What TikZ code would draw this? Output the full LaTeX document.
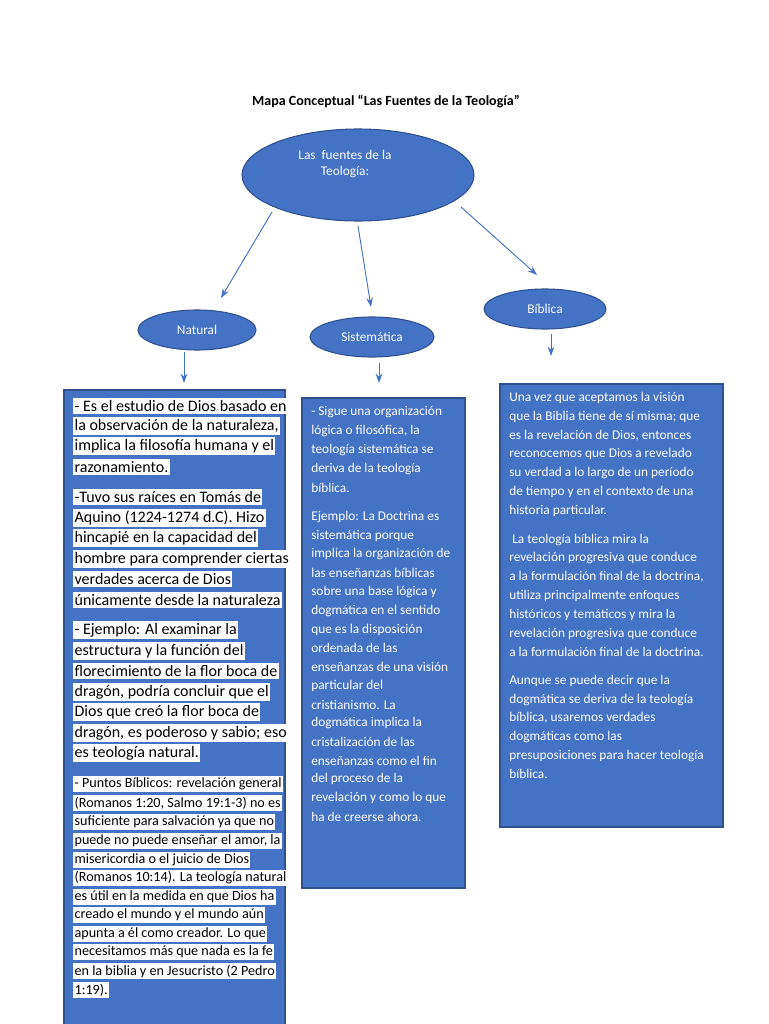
\documentclass[tikz,border=0pt]{standalone}
\usepackage{fontspec}
\setmainfont{Carlito}
\usetikzlibrary{arrows.meta}
\definecolor{bl}{HTML}{4472C4}
\definecolor{bd}{HTML}{2F528F}
\tikzset{ell/.style={draw=bd,fill=bl,line width=0.8pt},
 txtbox/.style={draw=bd,fill=bl,line width=0.8pt},
 arr/.style={draw=bl,line width=0.7pt,-{Stealth[length=7pt,width=5pt]}},
 hl/.style={fill=white,inner xsep=1pt,inner ysep=1.5pt,anchor=west,font=\fontsize{12}{12}\selectfont,text=black},
 hs/.style={hl,font=\fontsize{10.6}{10.6}\selectfont},
 wt/.style={inner sep=0pt,anchor=west,font=\fontsize{10}{10}\selectfont,text=white}}
\begin{document}
\begin{tikzpicture}[x=0.75pt,y=-0.75pt]
\useasboundingbox (0,0) rectangle (768,1024);
\node (title) at (386,102) {\fontsize{10.5}{10.5}\selectfont\bfseries Mapa Conceptual “Las Fuentes de la Teología”};
\draw[ell] (358,175) ellipse [x radius=116,y radius=46];
\node[text=white,align=center,font=\fontsize{10}{12}\selectfont] (top) at (345,164) {Las\ \ fuentes de la\\Teología:};
\coordinate (topc) at (358,175);
\draw[ell] (197,330) ellipse [x radius=59,y radius=20];
\node[text=white,font=\fontsize{10}{10}\selectfont] (nat) at (197,330) {Natural};
\draw[ell] (372,337) ellipse [x radius=62,y radius=20];
\node[text=white,font=\fontsize{10}{10}\selectfont] (sis) at (372,337) {Sistemática};
\draw[ell] (545,309) ellipse [x radius=61,y radius=20];
\node[text=white,font=\fontsize{10}{10}\selectfont] (bib) at (545,309) {Bíblica};
\coordinate (a1) at (272,212); \coordinate (b1) at (221,298);
\coordinate (a2) at (358,226); \coordinate (b2) at (371,307);
\coordinate (a3) at (461,207); \coordinate (b3) at (537,275);
\coordinate (a4) at (184,352); \coordinate (b4) at (184,383);
\coordinate (a5) at (379,363); \coordinate (b5) at (379,383);
\coordinate (a6) at (551,334); \coordinate (b6) at (551,356);
\foreach \i in {1,...,6} \draw[arr] (a\i) -- (b\i);
% boxes
\draw[txtbox] (64,390) rectangle (285,1030);
\draw[txtbox] (302,398) rectangle (465,888);
\draw[txtbox] (500,384) rectangle (723,827);
% left text
\node[hl] at (73,406) {- Es el estudio de Dios basado en};
\node[hl] at (73,426) {la observación de la naturaleza,};
\node[hl] at (73,446) {implica la filosofía humana y el};
\node[hl] at (73,467) {razonamiento.};
\node[hl] at (73,497) {-Tuvo sus raíces en Tomás de};
\node[hl] at (73,518) {Aquino (1224-1274 d.C). Hizo};
\node[hl] at (73,538) {hincapié en la capacidad del};
\node[hl] at (73,559) {hombre para comprender ciertas};
\node[hl] at (73,579) {verdades acerca de Dios};
\node[hl] at (73,600) {únicamente desde la naturaleza};
\node[hl] at (73,630) {- Ejemplo: Al examinar la};
\node[hl] at (73,651) {estructura y la función del};
\node[hl] at (73,671) {florecimiento de la flor boca de};
\node[hl] at (73,692) {dragón, podría concluir que el};
\node[hl] at (73,712) {Dios que creó la flor boca de};
\node[hl] at (73,733) {dragón, es poderoso y sabio; eso};
\node[hl] at (73,753) {es teología natural.};
\node[hs] at (73,784) {- Puntos Bíblicos: revelación general};
\node[hs] at (73,803) {(Romanos 1:20, Salmo 19:1-3) no es};
\node[hs] at (73,822) {suficiente para salvación ya que no};
\node[hs] at (73,841) {puede no puede enseñar el amor, la};
\node[hs] at (73,860) {misericordia o el juicio de Dios};
\node[hs] at (73,878) {(Romanos 10:14). La teología natural};
\node[hs] at (73,897) {es útil en la medida en que Dios ha};
\node[hs] at (73,915) {creado el mundo y el mundo aún};
\node[hs] at (73,934) {apunta a él como creador. Lo que};
\node[hs] at (73,952) {necesitamos más que nada es la fe};
\node[hs] at (73,971) {en la biblia y en Jesucristo (2 Pedro};
\node[hs] at (73,990) {1:19).};
% middle text
\foreach \y/\t in {412/{- Sigue una organización},431/{lógica o filosófica, la},450/{teología sistemática se},469/{deriva de la teología},488/{bíblica.},
517/{Ejemplo: La Doctrina es},536/{sistemática porque},554/{implica la organización de},573/{las enseñanzas bíblicas},592/{sobre una base lógica y},611/{dogmática en el sentido},630/{que es la disposición},648/{ordenada de las},667/{enseñanzas de una visión},686/{particular del},705/{cristianismo. La},723/{dogmática implica la},742/{cristalización de las},761/{enseñanzas como el fin},779/{del proceso de la},798/{revelación y como lo que},817/{ha de creerse ahora.}}
  \node[wt] at (311,\y) {\t};
% right text
\foreach \y/\t in {398/{Una vez que aceptamos la visión},417/{que la Biblia tiene de sí misma; que},436/{es la revelación de Dios, entonces},454/{reconocemos que Dios a revelado},473/{su verdad a lo largo de un período},492/{de tiempo y en el contexto de una},511/{historia particular.},
540/{\ La teología bíblica mira la},558/{revelación progresiva que conduce},577/{a la formulación final de la doctrina,},596/{utiliza principalmente enfoques},615/{históricos y temáticos y mira la},634/{revelación progresiva que conduce},652/{a la formulación final de la doctrina.},
681/{Aunque se puede decir que la},700/{dogmática se deriva de la teología},718/{bíblica, usaremos verdades},737/{dogmáticas como las},756/{presuposiciones para hacer teología},774/{bíblica.}}
  \node[wt] at (509,\y) {\t};
\end{tikzpicture}
\end{document}
